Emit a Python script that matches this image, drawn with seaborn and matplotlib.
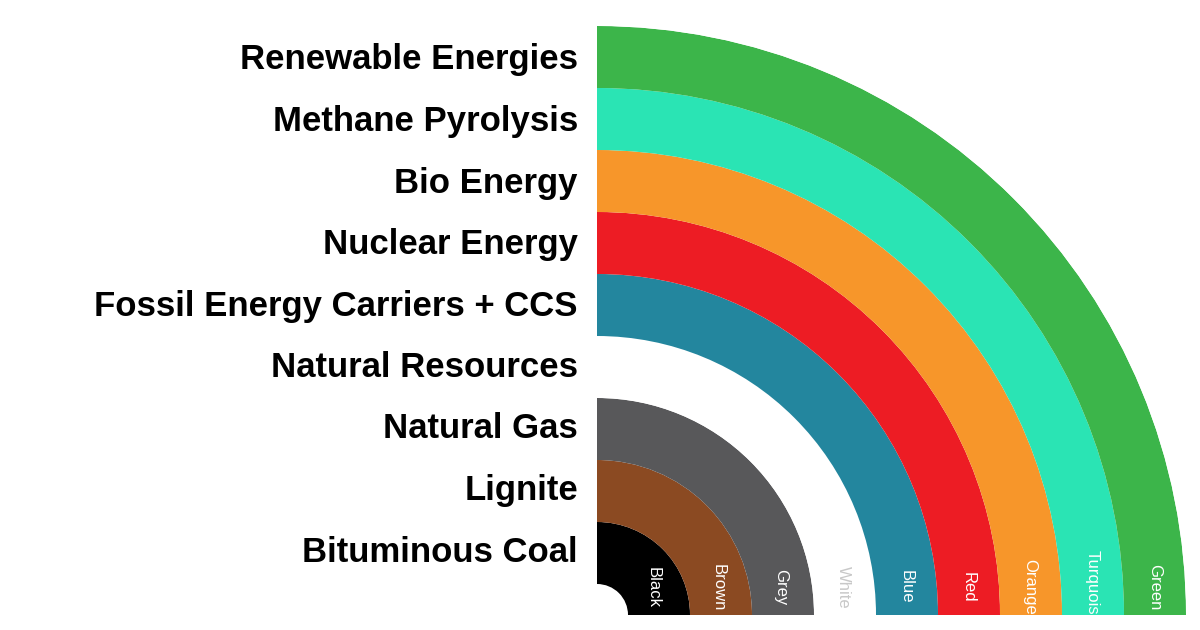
import numpy as np
import matplotlib.pyplot as plt
import seaborn as sns

sns.set_theme(style="white")
plt.rcParams['font.family'] = ['Liberation Sans', 'DejaVu Sans']

# row labels on the left, top to bottom
sources = ["Renewable Energies", "Methane Pyrolysis", "Bio Energy", "Nuclear Energy",
           "Fossil Energy Carriers + CCS", "Natural Resources", "Natural Gas",
           "Lignite", "Bituminous Coal"]
# rings, inner to outer
ring_names = ["Black", "Brown", "Grey", "White", "Blue", "Red", "Orange", "Turquoise", "Green"]
ring_colors = ["#000000", "#8b4a22", "#58585a", "#ffffff", "#23869e", "#ed1c24",
               "#f7962a", "#2ae4b4", "#3cb54a"]
ring_label_colors = ["white", "white", "white", "#c8c8c8", "white", "white", "white", "white", "white"]

W, H = 1200, 630
cx, cy = 597, 615      # centre in pixels (from top)
hole, ring_w = 31, 62
rmax = hole + ring_w * len(ring_names)

fig = plt.figure(figsize=(12, 6.3), dpi=100)
ax = fig.add_axes([(cx - rmax) / W, (H - cy - rmax) / H, 2 * rmax / W, 2 * rmax / H],
                  projection="polar")
ax.set_ylim(0, rmax)
ax.axis("off")

for i, (name, col, lc) in enumerate(zip(ring_names, ring_colors, ring_label_colors)):
    bottom = hole + i * ring_w
    ax.bar(np.pi / 4, ring_w, width=np.pi / 2, bottom=bottom, color=col,
           edgecolor="none", align="center")
    rc = bottom + ring_w / 2
    ax.text(28 / rc, rc, name, rotation=-90, ha="center", va="center",
            color=lc, fontsize=12)

for j, s in enumerate(sources):
    ypix = 60 + j * 61.5
    fig.text(578 / W, 1 - ypix / H, s, ha="right", va="center",
             fontsize=25, fontweight="bold", color="black")

fig.savefig("out.png", dpi=100)
